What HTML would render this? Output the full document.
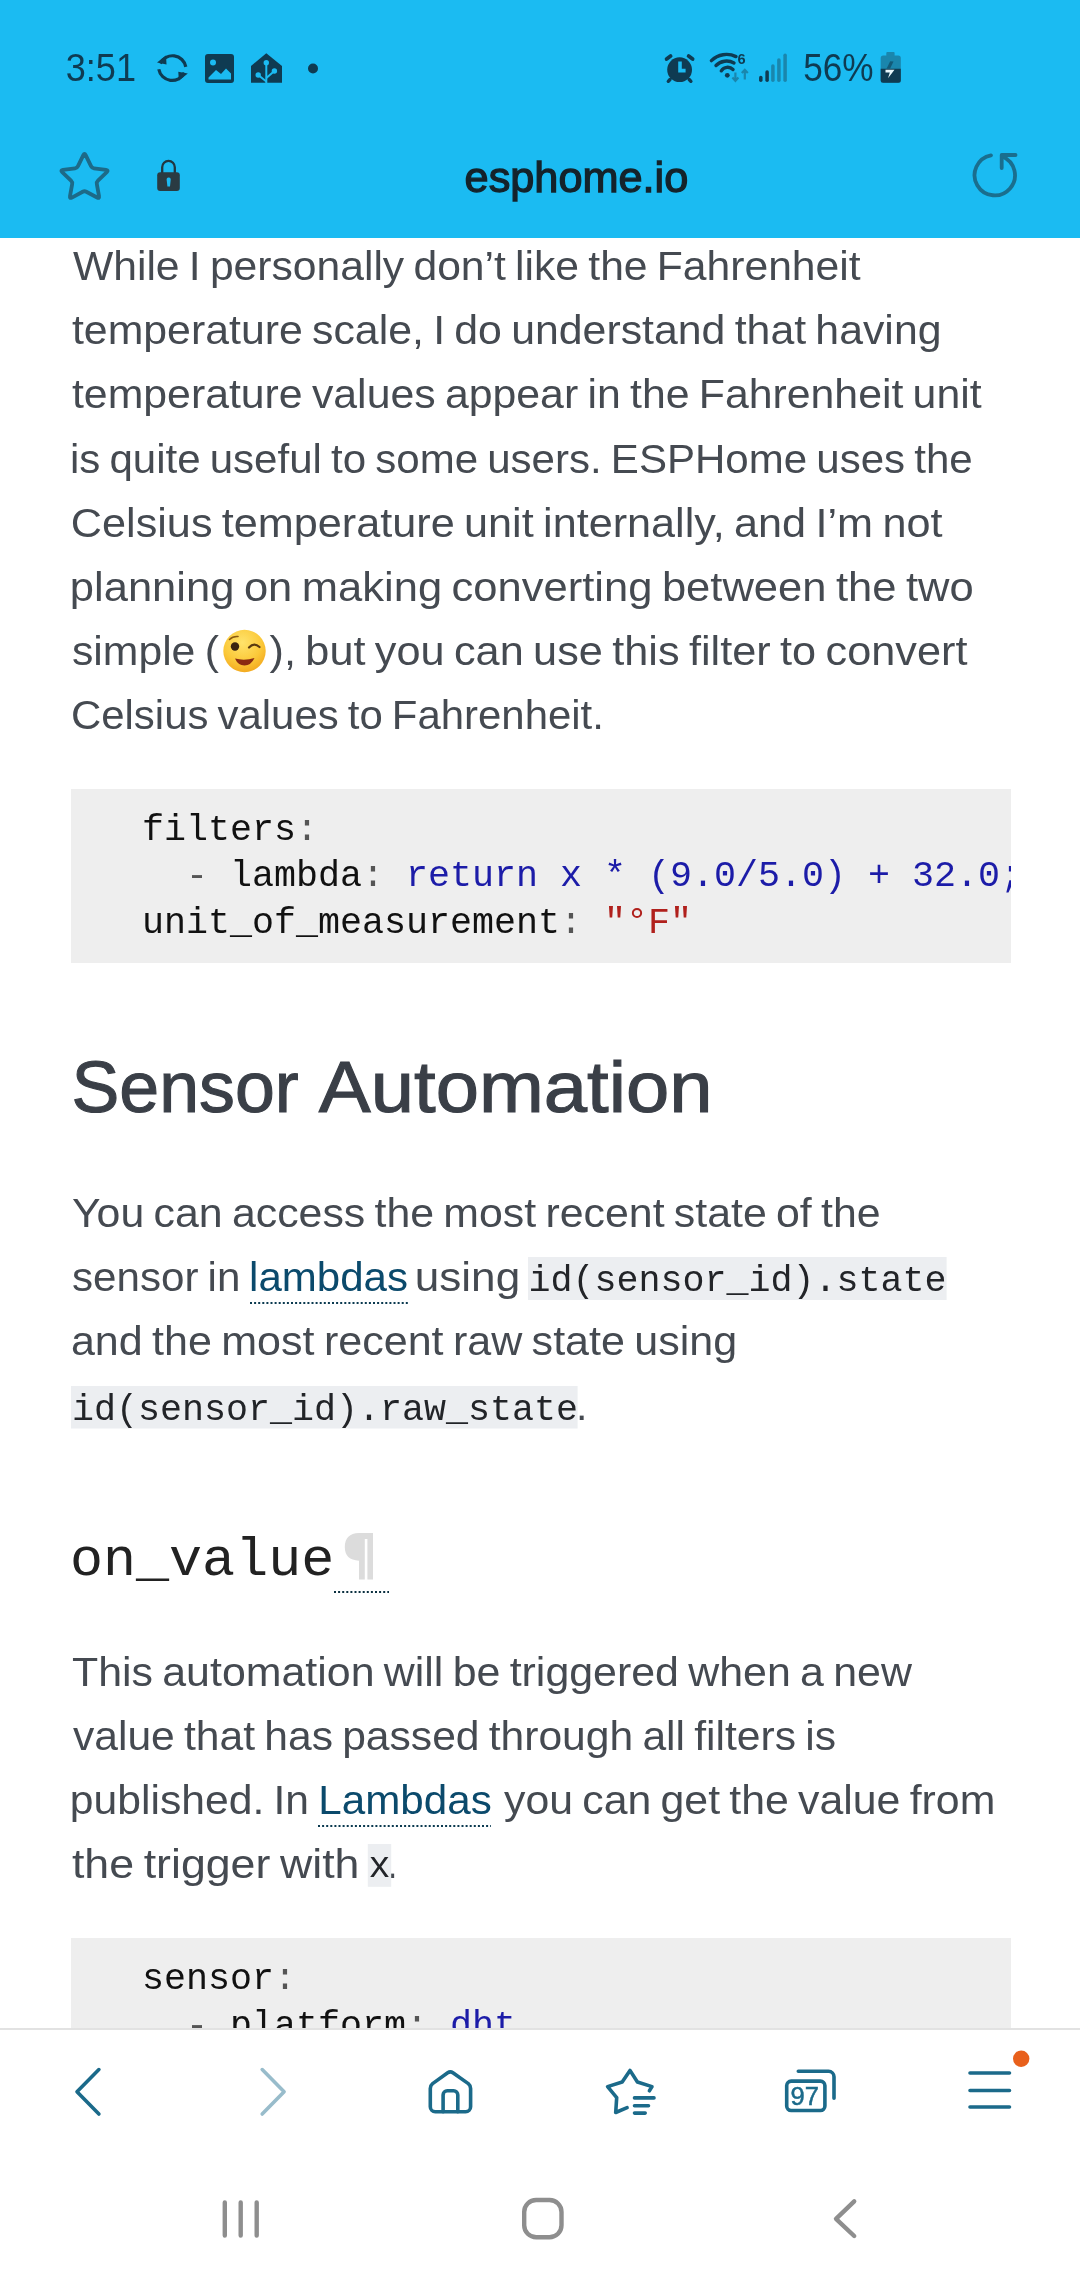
<!DOCTYPE html><html><head><meta charset="utf-8"><title>esphome</title><style>html,body{margin:0;padding:0;width:1080px;height:2280px;overflow:hidden;background:#ffffff}svg{display:block;will-change:transform}</style></head><body>
<svg width="1080" height="2280" viewBox="0 0 1080 2280">
<defs><clipPath id="cb1"><rect x="71" y="789" width="940" height="174"/></clipPath><clipPath id="cb2"><rect x="71" y="1938" width="940" height="90"/></clipPath><radialGradient id="emo" cx="0.45" cy="0.3" r="0.75"><stop offset="0" stop-color="#ffe36b"/><stop offset="0.6" stop-color="#fbc93a"/><stop offset="1" stop-color="#f2a51c"/></radialGradient></defs>
<rect x="0" y="0" width="1080" height="2280" fill="#ffffff"/>
<text x="73.0" y="280" style="font-family:'Liberation Sans', sans-serif;font-size:41px;font-weight:400;white-space:pre;word-spacing:-2.5px" fill="#454a51" textLength="787.56" lengthAdjust="spacingAndGlyphs">While I personally don’t like the Fahrenheit</text>
<text x="71.96" y="344.2" style="font-family:'Liberation Sans', sans-serif;font-size:41px;font-weight:400;white-space:pre;word-spacing:-2.5px" fill="#454a51" textLength="869.55" lengthAdjust="spacingAndGlyphs">temperature scale, I do understand that having</text>
<text x="71.96" y="408.4" style="font-family:'Liberation Sans', sans-serif;font-size:41px;font-weight:400;white-space:pre;word-spacing:-2.5px" fill="#454a51" textLength="909.64" lengthAdjust="spacingAndGlyphs">temperature values appear in the Fahrenheit unit</text>
<text x="69.92" y="472.6" style="font-family:'Liberation Sans', sans-serif;font-size:41px;font-weight:400;white-space:pre;word-spacing:-2.5px" fill="#454a51" textLength="902.8" lengthAdjust="spacingAndGlyphs">is quite useful to some users. ESPHome uses the</text>
<text x="70.89" y="536.8" style="font-family:'Liberation Sans', sans-serif;font-size:41px;font-weight:400;white-space:pre;word-spacing:-2.5px" fill="#454a51" textLength="871.55" lengthAdjust="spacingAndGlyphs">Celsius temperature unit internally, and I’m not</text>
<text x="69.81" y="601" style="font-family:'Liberation Sans', sans-serif;font-size:41px;font-weight:400;white-space:pre;word-spacing:-2.5px" fill="#454a51" textLength="903.88" lengthAdjust="spacingAndGlyphs">planning on making converting between the two</text>
<text x="71.96" y="665.2" style="font-family:'Liberation Sans', sans-serif;font-size:41px;font-weight:400;white-space:pre;word-spacing:-2.5px" fill="#454a51" textLength="146.92" lengthAdjust="spacingAndGlyphs">simple (</text>
<text x="269.54" y="665.2" style="font-family:'Liberation Sans', sans-serif;font-size:41px;font-weight:400;white-space:pre;word-spacing:-2.5px" fill="#454a51" textLength="697.87" lengthAdjust="spacingAndGlyphs">), but you can use this filter to convert</text>
<text x="70.96" y="729.4" style="font-family:'Liberation Sans', sans-serif;font-size:41px;font-weight:400;white-space:pre;word-spacing:-2.5px" fill="#454a51" textLength="532.94" lengthAdjust="spacingAndGlyphs">Celsius values to Fahrenheit.</text>
<g><circle cx="244.5" cy="651" r="21.2" fill="url(#emo)"/><circle cx="235" cy="646.5" r="4.2" fill="#3a2410"/><path d="M229.5 639.5 Q233 636 238 636.5" stroke="#8a5a10" stroke-width="1.6" fill="none" stroke-linecap="round"/><path d="M249 647.5 Q254 642 259.5 647" stroke="#5a3a10" stroke-width="2.2" fill="none" stroke-linecap="round"/><path d="M235 658.5 Q244.5 661 254.5 658 Q251 665.5 244.5 665.5 Q238 665.5 235 658.5Z" fill="#8a2a12"/></g>
<rect x="71" y="789" width="940" height="174" fill="#eeeeee"/>
<g clip-path="url(#cb1)"><text x="142" y="839.5" style="font-family:'Liberation Mono', monospace;font-size:36.67px;white-space:pre"><tspan fill="#111111">filters</tspan><tspan fill="#555555">:</tspan></text>
<text x="142" y="886.3" style="font-family:'Liberation Mono', monospace;font-size:36.67px;white-space:pre"><tspan fill="#555555">  - </tspan><tspan fill="#111111">lambda</tspan><tspan fill="#555555">:</tspan><tspan fill="#1c1ca8"> return x * (9.0/5.0) + 32.0;</tspan></text>
<text x="142" y="933" style="font-family:'Liberation Mono', monospace;font-size:36.67px;white-space:pre"><tspan fill="#111111">unit_of_measurement</tspan><tspan fill="#555555">:</tspan><tspan fill="#111111"> </tspan><tspan fill="#b0201c">"°F"</tspan></text>
</g>
<text x="71.45" y="1112" style="font-family:'Liberation Sans', sans-serif;font-size:73px;font-weight:400;white-space:pre;word-spacing:0px" fill="#3a3f47" stroke="#3a3f47" stroke-width="1.1" textLength="227.25" lengthAdjust="spacingAndGlyphs">Sensor</text>
<text x="318.8" y="1112" style="font-family:'Liberation Sans', sans-serif;font-size:73px;font-weight:400;white-space:pre;word-spacing:0px" fill="#3a3f47" stroke="#3a3f47" stroke-width="1.1" textLength="393.77" lengthAdjust="spacingAndGlyphs">Automation</text>
<text x="71.96" y="1226.7" style="font-family:'Liberation Sans', sans-serif;font-size:41px;font-weight:400;white-space:pre;word-spacing:-2.5px" fill="#454a51" textLength="808.64" lengthAdjust="spacingAndGlyphs">You can access the most recent state of the</text>
<text x="71.97" y="1290.9" style="font-family:'Liberation Sans', sans-serif;font-size:41px;font-weight:400;white-space:pre;word-spacing:-2.5px" fill="#454a51" textLength="168.38" lengthAdjust="spacingAndGlyphs">sensor in</text>
<text x="249.12" y="1290.9" style="font-family:'Liberation Sans', sans-serif;font-size:41px;font-weight:400;white-space:pre;word-spacing:-2.5px" fill="#0b4a6c" textLength="158.88" lengthAdjust="spacingAndGlyphs">lambdas</text>
<text x="414.77" y="1290.9" style="font-family:'Liberation Sans', sans-serif;font-size:41px;font-weight:400;white-space:pre;word-spacing:-2.5px" fill="#454a51" textLength="105.39" lengthAdjust="spacingAndGlyphs">using</text>
<text x="70.9" y="1355.1" style="font-family:'Liberation Sans', sans-serif;font-size:41px;font-weight:400;white-space:pre;word-spacing:-2.5px" fill="#454a51" textLength="666.34" lengthAdjust="spacingAndGlyphs">and the most recent raw state using</text>
<text x="576.0" y="1419.5" style="font-family:'Liberation Sans', sans-serif;font-size:41px;font-weight:400;white-space:pre;word-spacing:-2.5px" fill="#454a51">.</text>
<line x1="250" y1="1303" x2="409" y2="1303" stroke="#0b3a50" stroke-width="2" stroke-dasharray="2 2.1"/>
<rect x="528" y="1257" width="418.6" height="43" fill="#eceef1"/>
<text x="528.5" y="1290.9" style="font-family:'Liberation Mono', monospace;font-size:36.67px;white-space:pre"><tspan fill="#222428">id(sensor_id).state</tspan></text>
<rect x="71" y="1386" width="506.6" height="42.5" fill="#eceef1"/>
<text x="72" y="1419.5" style="font-family:'Liberation Mono', monospace;font-size:36.67px;white-space:pre"><tspan fill="#222428">id(sensor_id).raw_state</tspan></text>
<text x="69.94" y="1574.5" style="font-family:'Liberation Mono', monospace;font-size:54px;font-weight:400;white-space:pre;word-spacing:0px" fill="#222222" textLength="264.37" lengthAdjust="spacingAndGlyphs">on_value</text>
<path d="M359 1533 H373 V1579.6 H367.4 V1539 H364.8 V1579.6 H359 V1560.7 Q344.8 1560 344.8 1547 Q344.8 1533.5 359 1533Z" fill="#dcdcdc"/>
<line x1="334" y1="1592" x2="389" y2="1592" stroke="#0b3040" stroke-width="2" stroke-dasharray="2 2.1"/>
<text x="71.95" y="1686" style="font-family:'Liberation Sans', sans-serif;font-size:41px;font-weight:400;white-space:pre;word-spacing:-2.5px" fill="#454a51" textLength="840.0" lengthAdjust="spacingAndGlyphs">This automation will be triggered when a new</text>
<text x="73.0" y="1750" style="font-family:'Liberation Sans', sans-serif;font-size:41px;font-weight:400;white-space:pre;word-spacing:-2.5px" fill="#454a51" textLength="762.96" lengthAdjust="spacingAndGlyphs">value that has passed through all filters is</text>
<text x="69.88" y="1814" style="font-family:'Liberation Sans', sans-serif;font-size:41px;font-weight:400;white-space:pre;word-spacing:-2.5px" fill="#454a51" textLength="239.22" lengthAdjust="spacingAndGlyphs">published. In</text>
<text x="318.32" y="1814" style="font-family:'Liberation Sans', sans-serif;font-size:41px;font-weight:400;white-space:pre;word-spacing:-2.5px" fill="#0b4a6c" textLength="173.4" lengthAdjust="spacingAndGlyphs">Lambdas</text>
<text x="504.0" y="1814" style="font-family:'Liberation Sans', sans-serif;font-size:41px;font-weight:400;white-space:pre;word-spacing:-2.5px" fill="#454a51" textLength="491.29" lengthAdjust="spacingAndGlyphs">you can get the value from</text>
<text x="71.91" y="1878" style="font-family:'Liberation Sans', sans-serif;font-size:41px;font-weight:400;white-space:pre;word-spacing:-2.5px" fill="#454a51" textLength="287.56" lengthAdjust="spacingAndGlyphs">the trigger with</text>
<text x="386.4" y="1878" style="font-family:'Liberation Sans', sans-serif;font-size:41px;font-weight:400;white-space:pre;word-spacing:-2.5px" fill="#454a51">.</text>
<line x1="318" y1="1826" x2="491" y2="1826" stroke="#0b3a50" stroke-width="2" stroke-dasharray="2 2.1"/>
<rect x="367.8" y="1844" width="23.4" height="42.8" fill="#eceef1"/>
<text x="368.5" y="1877" style="font-family:'Liberation Mono', monospace;font-size:36.67px;white-space:pre"><tspan fill="#222428">x</tspan></text>
<rect x="71" y="1938" width="940" height="90" fill="#eeeeee"/>
<g clip-path="url(#cb2)"><text x="142" y="1988.75" style="font-family:'Liberation Mono', monospace;font-size:36.67px;white-space:pre"><tspan fill="#111111">sensor</tspan><tspan fill="#555555">:</tspan></text>
<text x="142" y="2035.5" style="font-family:'Liberation Mono', monospace;font-size:36.67px;white-space:pre"><tspan fill="#555555">  - </tspan><tspan fill="#111111">platform</tspan><tspan fill="#555555">:</tspan><tspan fill="#1c1ca8"> dht</tspan></text>
</g>
<rect x="0" y="0" width="1080" height="238" fill="#1bbbf2"/>
<text x="65.77" y="80.6" style="font-family:'Liberation Sans', sans-serif;font-size:39.5px;font-weight:400;white-space:pre;word-spacing:0px" fill="#0f3b52" textLength="70.25" lengthAdjust="spacingAndGlyphs">3:51</text>
<g fill="none" stroke="#0f3b52" stroke-width="3.2"><path d="M160.3 63.5 A13.5 13.5 0 0 1 185.8 66.9"/><path d="M184.3 72.7 A13.5 13.5 0 0 1 158.8 69.3"/></g><path d="M157 62.5 L166 55.5 L166.5 64.5Z" fill="#0f3b52"/><path d="M187.8 73.5 L178.8 80.8 L178.3 71.8Z" fill="#0f3b52"/>
<rect x="205" y="54" width="29" height="29" rx="3" fill="#0f3b52"/><circle cx="213" cy="62.5" r="3" fill="#1bbbf2"/><path d="M208.5 77.5 L216 70 L221 74 L226 68.5 L231 73.5 V79.5 H208.5Z" fill="#1bbbf2"/>
<path d="M266.3 53.2 L282 66 V82.7 H251 V66Z" fill="#0f3b52"/><g stroke="#1bbbf2" stroke-width="2" fill="none"><path d="M266.3 63 V83"/><path d="M258.2 75 L266.3 81.5"/><path d="M274.4 71 L266.3 78"/></g><circle cx="266.3" cy="62.8" r="2.7" fill="#1bbbf2"/><circle cx="258.2" cy="75" r="2.7" fill="#1bbbf2"/><circle cx="274.4" cy="71" r="2.7" fill="#1bbbf2"/>
<circle cx="313" cy="68.5" r="5" fill="#0f3b52"/>
<circle cx="679.6" cy="69.7" r="12.4" fill="#0f3b52"/><path d="M666.6 59.1 L670.6 56.1 M688.6 56.1 L692.6 59.1" stroke="#0f3b52" stroke-width="3.8" stroke-linecap="round"/><path d="M670 79.5 L668.3 81.3 M689.2 79.5 L690.9 81.3" stroke="#0f3b52" stroke-width="3.4" stroke-linecap="round"/><path d="M680 61.5 V70.6 H685.6" stroke="#1bbbf2" stroke-width="3.6" fill="none"/>
<g fill="none" stroke="#0f3b52" stroke-width="3.4" stroke-linecap="round"><path d="M711.4 60.6 A21.7 21.7 0 0 1 736 56.6"/><path d="M716 65.5 A15 15 0 0 1 734 63"/><path d="M721.3 70.8 A7.6 7.6 0 0 1 733 69.5"/></g><circle cx="727.3" cy="75.3" r="2.4" fill="#0f3b52"/><text x="737.6" y="64.3" style="font-family:'Liberation Sans',sans-serif;font-size:14.5px;font-weight:700" fill="#0f3b52">6</text><path d="M735.4 72.5 V80.5 M732.4 77.6 L735.4 80.8 L738.4 77.6" stroke="#1a86ad" stroke-width="2.2" fill="none"/><path d="M744.8 79.6 V70 M741.8 73 L744.8 69.8 L747.8 73" stroke="#1a86ad" stroke-width="2.2" fill="none"/>
<g stroke-linecap="round" stroke-width="3.5"><line x1="760.8" y1="80.3" x2="760.8" y2="77.5" stroke="#0f3b52"/><line x1="767.1" y1="80.3" x2="767.1" y2="71.9" stroke="#0f3b52"/><line x1="772.9" y1="80.3" x2="772.9" y2="66.1" stroke="#1a86ad"/><line x1="778.9" y1="80.3" x2="778.9" y2="60.1" stroke="#1a86ad"/><line x1="785.1" y1="80.3" x2="785.1" y2="55.3" stroke="#1a86ad"/></g>
<text x="803.22" y="80.7" style="font-family:'Liberation Sans', sans-serif;font-size:39.5px;font-weight:400;white-space:pre;word-spacing:0px" fill="#0f3b52" textLength="70.43" lengthAdjust="spacingAndGlyphs">56%</text>
<rect x="886.3" y="51.9" width="8.3" height="4.5" rx="1" fill="#1a86ad"/><rect x="880.7" y="55.6" width="20.1" height="27.1" rx="2.5" fill="#1a86ad"/><path d="M880.7 68.8 H900.8 V80.2 A2.5 2.5 0 0 1 898.3 82.7 H883.2 A2.5 2.5 0 0 1 880.7 80.2Z" fill="#0f3b52"/><path d="M890.2 61.2 L886.5 68.8 H890 L893.5 61.5Z" fill="#125a78"/><path d="M885.5 69.8 H894.5 L888 78.2 L889.8 72.4 H885.5Z" fill="#e8f6fb"/>
<path d="M83.32 155.15 Q84.50 152.70 85.68 155.15 L91.02 166.17 Q91.91 168.01 93.93 168.28 L106.06 169.95 Q108.75 170.32 106.79 172.20 L97.96 180.68 Q96.48 182.09 96.84 184.10 L99.01 196.15 Q99.49 198.83 97.09 197.55 L86.30 191.76 Q84.50 190.80 82.70 191.76 L71.91 197.55 Q69.51 198.83 69.99 196.15 L72.16 184.10 Q72.52 182.09 71.04 180.68 L62.21 172.20 Q60.25 170.32 62.94 169.95 L75.07 168.28 Q77.09 168.01 77.98 166.17 Z" fill="none" stroke="#1d6a88" stroke-width="3.8" stroke-linejoin="round"/>
<path d="M162.2 173 V167.2 A6.3 6.3 0 0 1 174.8 167.2 V173" fill="none" stroke="#223640" stroke-width="2.3"/><rect x="157.2" y="172.2" width="22.6" height="18.7" rx="3" fill="#2a3b42"/><path d="M168.7 177.6 C170.6 177.6 171.1 179.2 170.6 181 L170 186.4 H167.4 L166.8 181 C166.3 179.2 166.8 177.6 168.7 177.6Z" fill="#1bbbf2"/>
<text x="464.59" y="191.8" style="font-family:'Liberation Sans', sans-serif;font-size:43px;font-weight:400;white-space:pre;word-spacing:0px" fill="#14232b" stroke="#14232b" stroke-width="1.3" textLength="223.73" lengthAdjust="spacingAndGlyphs">esphome.io</text>
<path d="M991 155.3 A20.2 20.2 0 1 0 1002.3 156.4" fill="none" stroke="#1a6e8e" stroke-width="3.8" stroke-linecap="round"/><path d="M1015.5 155 H1001.7 V168" fill="none" stroke="#1a6e8e" stroke-width="3.8" stroke-linecap="round" stroke-linejoin="round"/>
<rect x="0" y="2028" width="1080" height="252" fill="#ffffff"/>
<rect x="0" y="2028" width="1080" height="2" fill="#e2e2e2"/>
<g fill="none" stroke="#1b6a8a" stroke-width="3.6" stroke-linecap="round" stroke-linejoin="round"><path d="M98.9 2069.6 L77 2091.8 L98.9 2114"/><path d="M262.2 2069.6 L284.1 2091.8 L262.2 2114" stroke="#98bccb"/><path d="M430.3 2088.5 Q430.3 2085.5 432.6 2083.6 L447.7 2072.8 Q450.3 2070.9 452.9 2072.8 L468.3 2083.6 Q470.6 2085.5 470.6 2088.5 V2106.7 A5 5 0 0 1 465.6 2111.7 H435.3 A5 5 0 0 1 430.3 2106.7Z"/><path d="M443.1 2111.7 V2095 A4.2 4.2 0 0 1 447.3 2090.8 H453.6 A4.2 4.2 0 0 1 457.8 2095 V2111.7"/><path d="M627.1 2107.6 L615.7 2112.5 L616.7 2097.6 L607.6 2086.6 L622.2 2082 L630 2070.4 L637.4 2082 L652 2086.6 L649.4 2090.8"/><path d="M634.5 2097.9 H654 M634.5 2105.7 H648.5 M634.5 2113.1 H645.2"/><rect x="786.7" y="2081.1" width="38.2" height="29.4" rx="4.5"/><path d="M798.3 2071.3 H828.5 A5.5 5.5 0 0 1 834 2076.8 V2098.2"/><path d="M970 2073 H1009.5 M970 2090.5 H1009.5 M970 2107 H1009.5"/></g>
<text x="790.6" y="2104.7" style="font-family:'Liberation Sans',sans-serif;font-size:25.5px;font-weight:400" fill="#1b6a8a" stroke="#1b6a8a" stroke-width="0.5" textLength="28.4" lengthAdjust="spacingAndGlyphs">97</text>
<circle cx="1021.2" cy="2058.7" r="8.2" fill="#e8601c"/>
<g fill="none" stroke="#8e8e8e" stroke-width="4.4" stroke-linecap="round" stroke-linejoin="round"><path d="M224.8 2202.5 V2235.5 M240.7 2202.5 V2235.5 M256.7 2202.5 V2235.5"/><rect x="524.2" y="2200" width="37.3" height="37.2" rx="12"/><path d="M854.2 2201.3 L836 2218.8 L854.2 2236"/></g>
</svg></body></html>
